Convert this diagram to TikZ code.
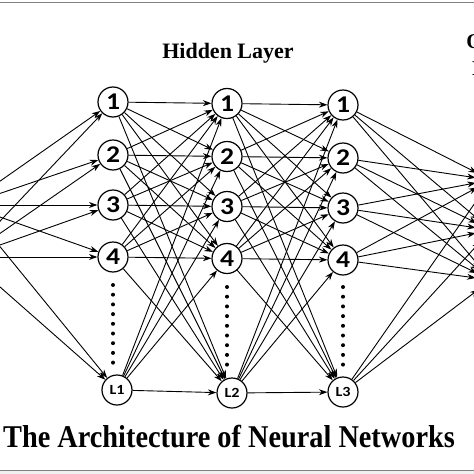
\documentclass[tikz,border=0pt]{standalone}
\usepackage{fontspec}
\setmainfont{Liberation Serif}
\newfontfamily\calfont{Carlito}
\usepackage{tikz}
\usetikzlibrary{arrows.meta}

\begin{document}
\begin{tikzpicture}[x=1pt,y=-1pt,>={Stealth[length=8.5pt,width=6pt]},
	neuron/.style={circle,draw,line width=1.2pt,fill=white,minimum size=30pt,inner sep=0pt,
		font={\calfont\bfseries\fontsize{24}{24}\selectfont}},
	lneuron/.style={neuron,font={\calfont\bfseries\fontsize{14}{14}\selectfont}},
	link/.style={->,line width=0.9pt}] % 神经网络结构图
	\useasboundingbox (0,0) rectangle (474,474);
	\clip (0,0) rectangle (474,474);
	
	% 上下两条灰线
	\draw[gray,line width=1.4pt] (0,2.5)--(474,2.5);
	\fill[gray!12] (0,471)rectangle(474,474);
	\draw[gray,line width=1.4pt] (0,470.5)--(474,470.5);
	
	% 输入层与输出层 (画面外)
	\foreach \i/\y in {1/205,2/257}{
		\node[neuron] (in\i) at (-34,\y){};
	}
	\foreach \i/\y in {1/180,2/230,3/280}{
		\node[neuron] (out\i) at (491,\y){};
	}
	
	% 三个隐藏层
	\foreach \l/\xx/\dy in {p/113/0,q/227/1.5,r/343/3}{
		\foreach \i/\y in {1/102,2/155,3/205,4/257}{
			\node[neuron] (\l\i) at (\xx,\y+\dy){\scalebox{1.15}[1]{\i}};
		}
	}
	\node[lneuron] (p5) at (117,390){\scalebox{1.15}[1]{L1}};
	\node[lneuron] (q5) at (232,393){\scalebox{1.15}[1]{L2}};
	\node[lneuron] (r5) at (343,392){\scalebox{1.15}[1]{L3}};
	
	\foreach \xx/\ya in {113/285,227/287,343/287}{
		\foreach \k in {0,...,8}{
			\fill (\xx,\ya+9.7*\k) circle (2);} % 省略号
	}
	
	\foreach \j in {1,...,5}{
		\foreach \i in {1,2}{
			\draw[link] (in\i)--(p\j);}
	}
	\foreach \i in {1,...,5}{
		\foreach \j in {1,...,5}{
			\draw[link] (p\i)--(q\j);
			\draw[link] (q\i)--(r\j);}
	}
	\foreach \i in {1,...,5}{
		\foreach \j in {1,2,3}{
			\draw[link] (r\i)--(out\j);}
	}
	
	\node[anchor=base,font={\bfseries\fontsize{22}{26}\selectfont}] (hid) at (228,58){Hidden Layer};
	\node[anchor=base,font={\bfseries\fontsize{21}{26}\selectfont}] (outa) at (499,48){Output};
	\node[anchor=base,font={\bfseries\fontsize{21}{26}\selectfont}] (outb) at (499,75){Layer};
	
	\node[anchor=base,font={\bfseries\fontsize{28.3}{34}\selectfont}] (title) at (229,447){\scalebox{1}[1.12]{The Architecture of Neural Networks}};
\end{tikzpicture}
\end{document}
